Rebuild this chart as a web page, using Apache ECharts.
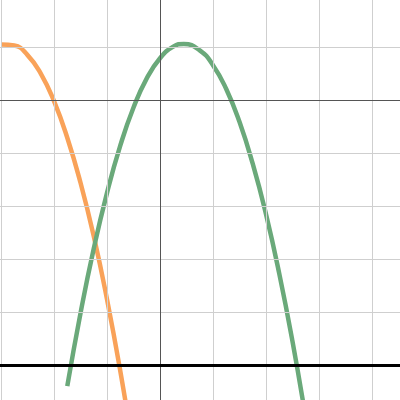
<!DOCTYPE html>
<html><head><meta charset="utf-8">
<script src="https://cdn.jsdelivr.net/npm/echarts@6/dist/echarts.min.js"></script>
<style>html,body{margin:0;padding:0;background:#fff}#c{width:400px;height:400px}</style>
</head><body><div id="c"></div>
<script>
// grid ticks
const xTicks = [-3, -2, -1, 1, 2, 3, 4];
const yTicks = [1, -1, -2, -3, -4];
const hLine = -5;

// green parabola
const greenX = [-1.75, -1.5, -1.25, -1, -0.75, -0.5, -0.25, 0, 0.25, 0.45, 0.75, 1, 1.25, 1.5, 1.75, 2, 2.25, 2.5, 2.75];
const greenY = [-5.40, -4.02, -2.80, -1.75, -0.86, -0.14, 0.41, 0.79, 1.01, 1.06, 0.94, 0.66, 0.21, -0.41, -1.20, -2.15, -3.27, -4.55, -6.00];

// orange parabola
const orangeX = [-3, -2.75, -2.5, -2.25, -2, -1.75, -1.5, -1.25, -1, -0.75, -0.5];
const orangeY = [1.05, 1.03, 0.85, 0.50, -0.02, -0.71, -1.56, -2.57, -3.76, -5.11, -6.63];

function zip(xs, ys){ return xs.map((x, i) => [x, ys[i]]); }

const chart = echarts.init(document.getElementById('c'));
const thin = {color: '#cfcfcf', width: 1, type: 'solid'};
chart.setOption({
    animation: false,
    grid: {left: 0, right: 0, top: 0, bottom: 0},
    xAxis: {type: 'value', min: -3.02, max: 4.53, show: false},
    yAxis: {type: 'value', min: -5.66, max: 1.89, show: false},
    series: [
        {
            type: 'line', data: [], silent: true,
            markLine: {
                symbol: 'none', silent: true, label: {show: false},
                lineStyle: thin,
                data: xTicks.map(v => ({xAxis: v})).concat(yTicks.map(v => ({yAxis: v})))
                    .concat([
                        {xAxis: 0, lineStyle: {color: '#555', width: 1, type: 'solid'}},
                        {yAxis: 0, lineStyle: {color: '#555', width: 1, type: 'solid'}},
                        {yAxis: hLine, lineStyle: {color: '#000', width: 3, type: 'solid'}}
                    ])
            }
        },
        {
            type: 'line', data: zip(orangeX, orangeY), smooth: true, showSymbol: false,
            lineStyle: {color: '#f9a259', width: 4.5}
        },
        {
            type: 'line', data: zip(greenX, greenY), smooth: true, showSymbol: false,
            lineStyle: {color: '#6aa97a', width: 4.5}
        }
    ]
});
</script>
</body></html>
